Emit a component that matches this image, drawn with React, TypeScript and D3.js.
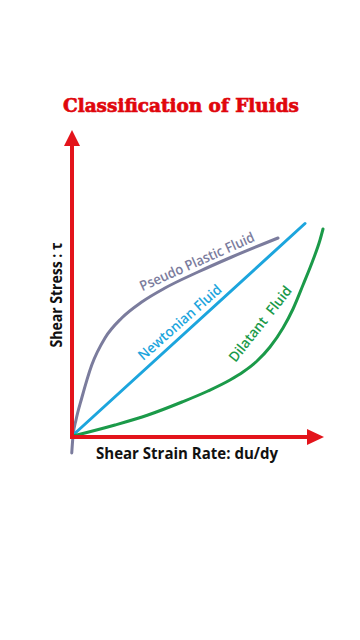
import React from "react";
import * as d3 from "d3";

const title = "Classification of Fluids";
const xAxisLabel = "Shear Strain Rate: du/dy";
const yAxisLabel = "Shear Stress : τ";

const seriesNames = ["Pseudo Plastic Fluid", "Newtonian Fluid", "Dilatant  Fluid"];

const pseudoX = [-0.1, 0.4, 1.6, 3.9, 7.9, 13.2, 19.9, 27.9, 37.2, 50.4, 63.9, 82.4];
const pseudoY = [-6.8, 0, 6.4, 15.2, 28.4, 39.2, 47.2, 53.6, 59.2, 65.6, 71.6, 79.2];

const newtonX = [0, 93.2];
const newtonY = [0, 85];

const dilatantX = [0.4, 17.2, 30.4, 44, 54.4, 63.2, 68.4, 74, 79.2, 84.4, 88.4, 92.4, 96.4, 99.2, 100.4];
const dilatantY = [0, 4.4, 8.4, 13.6, 18, 22.4, 25.6, 30, 35.6, 43.2, 50.8, 60.4, 70.4, 78.4, 82.8];

const W = 360;
const H = 640;

export default function App() {
  const x = d3.scaleLinear().domain([0, 100]).range([72, 322]);
  const y = d3.scaleLinear().domain([0, 100]).range([436, 186]);

  const line = d3
    .line<[number, number]>()
    .x((d) => x(d[0]))
    .y((d) => y(d[1]))
    .curve(d3.curveMonotoneX);

  const zip = (a: number[], b: number[]) => a.map((v, i) => [v, b[i]] as [number, number]);

  const red = "#e3141b";
  const gray = "#7b7c9d";
  const blue = "#1ca5dd";
  const green = "#1b9a49";

  const ox = x(0);
  const oy = y(0);
  const yTop = y(116);
  const yTip = y(122.4);
  const xEnd = x(94);
  const xTip = x(100.8);

  return (
    <svg
      width={W}
      height={H}
      style={{ position: "absolute", left: 0, top: 0, background: "#fff" }}
    >
      <text
        x={181}
        y={112}
        textAnchor="middle"
        fill="#e0060c"
        stroke="#e0060c"
        strokeWidth={0.7}
        fontFamily="DejaVu Serif"
        fontWeight={900}
        fontSize={19}
        textLength={236}
        lengthAdjust="spacingAndGlyphs"
      >
        {title}
      </text>

      {/* curves */}
      <path d={line(zip(pseudoX, pseudoY)) || ""} fill="none" stroke={gray} strokeWidth={3} strokeLinecap="round" />
      <path d={line(zip(newtonX, newtonY)) || ""} fill="none" stroke={blue} strokeWidth={3} strokeLinecap="round" />
      <path d={line(zip(dilatantX, dilatantY)) || ""} fill="none" stroke={green} strokeWidth={3} strokeLinecap="round" />

      {/* axes */}
      <line x1={ox} y1={oy + 2} x2={ox} y2={yTop} stroke={red} strokeWidth={4} />
      <path d={`M${ox},${yTip} L${ox - 8},${yTop} L${ox + 8},${yTop} Z`} fill={red} />
      <line x1={ox - 2} y1={oy + 1} x2={xEnd} y2={oy + 1} stroke={red} strokeWidth={4} />
      <path d={`M${xTip},${oy + 1} L${xEnd},${oy - 7} L${xEnd},${oy + 9} Z`} fill={red} />

      {/* axis labels */}
      <text
        x={187}
        y={459}
        textAnchor="middle"
        fill="#111"
        fontFamily="Open Sans"
        fontWeight={700}
        fontSize={16}
        textLength={182}
        lengthAdjust="spacingAndGlyphs"
      >
        {xAxisLabel}
      </text>
      <text
        transform="translate(62,295) rotate(-90)"
        textAnchor="middle"
        fill="#111"
        fontFamily="Open Sans"
        fontWeight={700}
        fontSize={16}
        textLength={105}
        lengthAdjust="spacingAndGlyphs"
      >
        {yAxisLabel}
      </text>

      {/* series labels */}
      <text
        transform="translate(199,266) rotate(-24)"
        textAnchor="middle"
        fill={gray}
        fontFamily="Open Sans"
        fontWeight={600}
        fontSize={14}
        textLength={124}
        lengthAdjust="spacingAndGlyphs"
      >
        {seriesNames[0]}
      </text>
      <text
        transform="translate(183,326) rotate(-41.5)"
        textAnchor="middle"
        fill={blue}
        fontFamily="Open Sans"
        fontWeight={600}
        fontSize={14}
        textLength={106}
        lengthAdjust="spacingAndGlyphs"
      >
        {seriesNames[1]}
      </text>
      <text
        transform="translate(264,327) rotate(-51.6)"
        textAnchor="middle"
        fill={green}
        fontFamily="Open Sans"
        fontWeight={600}
        fontSize={14}
        textLength={92}
        lengthAdjust="spacingAndGlyphs"
        style={{ whiteSpace: "pre" }}
      >
        {seriesNames[2]}
      </text>
    </svg>
  );
}
